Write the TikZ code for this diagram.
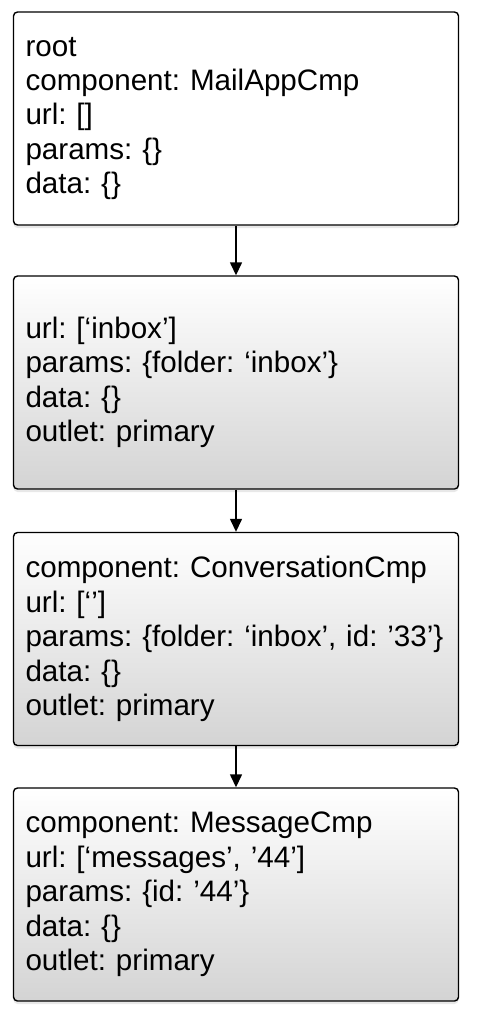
\documentclass[tikz,border=0pt]{standalone}
\usepackage{fontspec}
\setmainfont{Liberation Sans}
\usetikzlibrary{arrows.meta,shadows}

\begin{document}
\begin{tikzpicture}[x=1pt,y=-1pt,
    state/.style={draw, line width=1.4pt, rounded corners=4pt, fill=white,
        minimum width=445pt, minimum height=213pt, text width=421pt,
        inner xsep=12pt, align=left,
        font=\fontsize{29.6}{34.4}\selectfont\frenchspacing,
        drop shadow={opacity=0.18, shadow xshift=0pt, shadow yshift=-3pt}},
    shaded/.style={state, top color=white, bottom color=black!17},
    link/.style={line width=1.4pt, -{Triangle[length=13pt,width=12pt]}}]
    \useasboundingbox (0,0) rectangle (482,1019);

    \node [state] (root) at (236,118.5) {root\\component: MailAppCmp\\url: []\\params: \{\}\\data: \{\}};
    \node [shaded] (inbox) at (236,382.5) {url: [‘inbox’]\\params: \{folder: ‘inbox’\}\\data: \{\}\\outlet: primary};
    \node [shaded] (conv) at (236,639) {component: ConversationCmp\\url: [‘’]\\params: \{folder: ‘inbox’, id: ’33’\}\\data: \{\}\\outlet: primary};
    \node [shaded] (msg) at (236,894.5) {component: MessageCmp\\url: [‘messages’, ’44’]\\params: \{id: ’44’\}\\data: \{\}\\outlet: primary};

    \draw [link] (root) -- (inbox);
    \draw [link] (inbox) -- (conv);
    \draw [link] (conv) -- (msg);
\end{tikzpicture}
\end{document}
